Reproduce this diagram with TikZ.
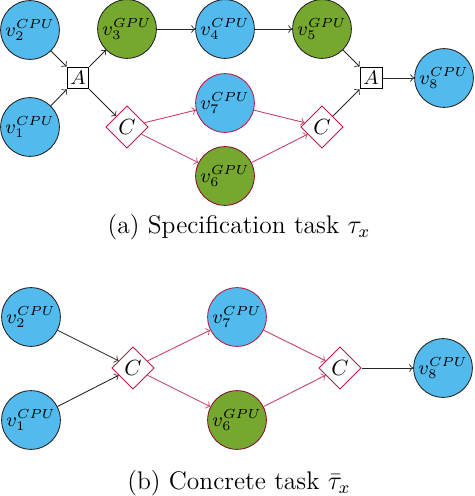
\documentclass[tikz,border=0pt]{standalone}
\usepackage{amsmath}
\usepackage{xcolor}
\usepackage{tikz}
\usetikzlibrary{shapes.geometric}
\usetikzlibrary{arrows}
\definecolor{cpublue}{RGB}{82,186,236}
\definecolor{gpugreen}{RGB}{118,167,46}
\definecolor{condred}{RGB}{182,30,72}

\begin{document}
\begin{tikzpicture}[x=0.016cm,y=-0.016cm,
	cpu/.style={circle,draw=black!85,fill=cpublue,minimum size=0.94cm,inner sep=0pt,font=\fontsize{8.6}{10}\selectfont},
	gpu/.style={circle,draw=black!85,fill=gpugreen,minimum size=0.94cm,inner sep=0pt,font=\fontsize{8.6}{10}\selectfont},
	cpucond/.style={cpu,draw=condred},
	gpucond/.style={gpu,draw=condred!70!black},
	andgate/.style={rectangle,draw=black,fill=white,minimum size=0.35cm,inner sep=0pt,font=\fontsize{9}{10}\selectfont},
	condgate/.style={diamond,draw=condred,fill=white,minimum size=0.68cm,inner sep=0pt},
	arr/.style={->,black!85},
	carr/.style={->,condred!85},
	caption/.style={font=\fontsize{11.6}{14}\selectfont}]
		\useasboundingbox (0,0) rectangle (474,496);
		% (a) specification task
		\node[cpu] (v2) at (30,30) {$v_2^{CPU}$};
		\node[cpu] (v1) at (30,127) {$v_1^{CPU}$};
		\node[andgate] (a1) at (78,78) {$A$};
		\node[gpu] (v3) at (127,29) {$v_3^{GPU}$};
		\node[cpu] (v4) at (225,29) {$v_4^{CPU}$};
		\node[gpu] (v5) at (322,29) {$v_5^{GPU}$};
		\node[condgate] (c1) at (127,127) {$C$};
		\node[cpucond] (v7) at (225,103) {$v_7^{CPU}$};
		\node[gpucond] (v6) at (225,176) {$v_6^{GPU}$};
		\node[condgate] (c2) at (322,127) {$C$};
		\node[andgate] (a2) at (371,78) {$A$};
		\node[cpu] (v8) at (444,78) {$v_8^{CPU}$};
		\draw[arr] (v2)--(a1);
		\draw[arr] (v1)--(a1);
		\draw[arr] (a1)--(v3);
		\draw[arr] (a1)--(c1);
		\draw[arr] (v3)--(v4);
		\draw[arr] (v4)--(v5);
		\draw[carr] (c1)--(v7);
		\draw[carr] (c1)--(v6);
		\draw[carr] (v7)--(c2);
		\draw[carr] (v6)--(c2);
		\draw[arr] (v5)--(a2);
		\draw[arr] (c2)--(a2);
		\draw[arr] (a2)--(v8);
		\node[caption] (capa) at (239,227) {(a) Specification task $\tau_x$};
		% (b) concrete task
		\node[cpu] (w2) at (31,317) {$v_2^{CPU}$};
		\node[cpu] (w1) at (31,420) {$v_1^{CPU}$};
		\node[condgate] (d1) at (133,368) {$C$};
		\node[cpucond] (w7) at (237,317) {$v_7^{CPU}$};
		\node[gpucond] (w6) at (237,420) {$v_6^{GPU}$};
		\node[condgate] (d2) at (340,368) {$C$};
		\node[cpu] (w8) at (443,368) {$v_8^{CPU}$};
		\draw[arr] (w2)--(d1);
		\draw[arr] (w1)--(d1);
		\draw[carr] (d1)--(w7);
		\draw[carr] (d1)--(w6);
		\draw[carr] (w7)--(d2);
		\draw[carr] (w6)--(d2);
		\draw[arr] (d2)--(w8);
		\node[caption] (capb) at (239,483) {(b) Concrete task $\bar{\tau}_x$};
	\end{tikzpicture}
\end{document}
